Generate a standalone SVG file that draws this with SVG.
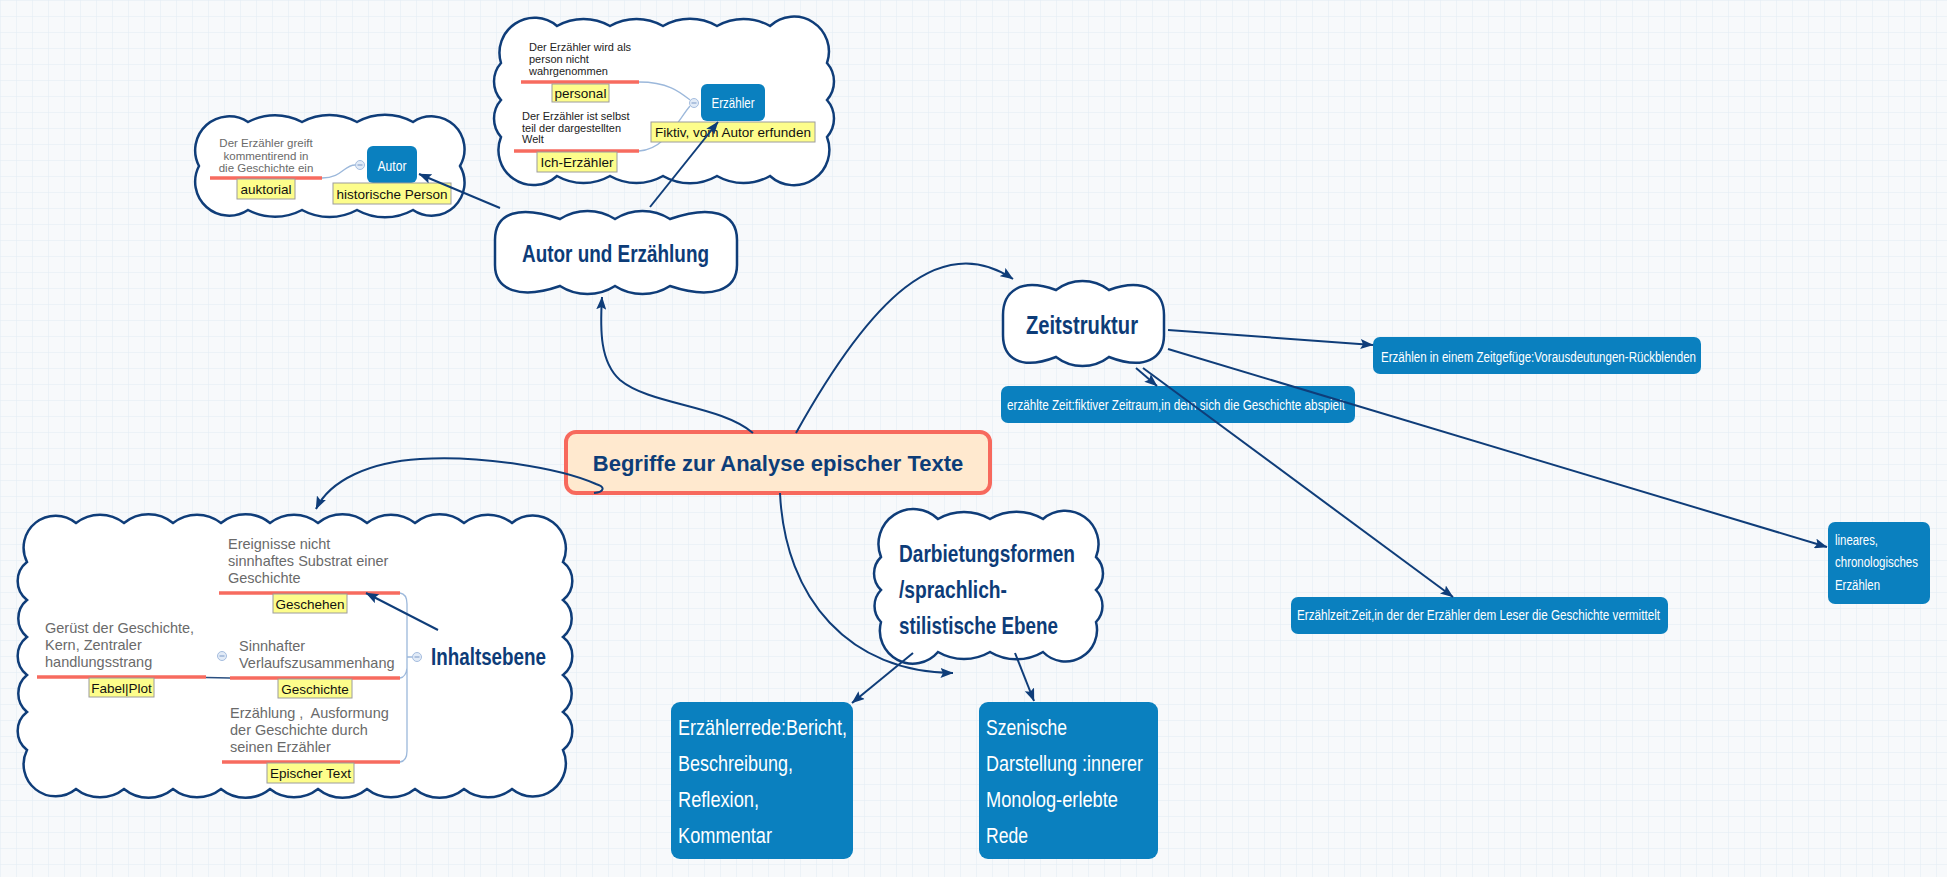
<svg xmlns="http://www.w3.org/2000/svg" width="1947" height="877" viewBox="0 0 1947 877">
<defs>
<pattern id="grid" width="16" height="16" patternUnits="userSpaceOnUse"><path d="M16 0H0V16" fill="none" stroke="#e1ebf4" stroke-width="1"/></pattern>
<marker id="ah" viewBox="0 0 13 10" refX="12.5" refY="5" markerWidth="13" markerHeight="10" markerUnits="userSpaceOnUse" orient="auto"><path d="M0,0 L13,5 L0,10 L2.5,5 z" fill="#0f3d79"/></marker>
<style>
.cl{fill:#fff;stroke:#0f3d79;stroke-width:2.5}
.bx{fill:#0a80bf}
.yl{fill:#fdfd8b;stroke:#9c9c9c;stroke-width:1}
.ul{stroke:#f76b5f;stroke-width:3.5}
.hw{font-family:"Liberation Sans Narrow","Liberation Sans",Arial,sans-serif}
.wt{fill:#fff}
.nv{fill:#0d3c78;font-weight:bold}
.gr{font-family:"Liberation Sans",Arial,sans-serif;fill:#6a6a6a}
.bk{font-family:"Liberation Sans",Arial,sans-serif;fill:#222}
.lab{font-family:"Liberation Sans",Arial,sans-serif;font-size:13.5px;fill:#111;text-anchor:middle}
.thin{fill:none;stroke:#9cb8db;stroke-width:1.3}
.arr{fill:none;stroke:#0f3d79;stroke-width:2;marker-end:url(#ah)}
.mc{fill:#e2ebf7;stroke:#a5bddf;stroke-width:1}
.mn{stroke:#8ba6cf;stroke-width:1.2}
</style>
</defs>
<rect width="1947" height="877" fill="#f7f9fb"/>
<rect width="1947" height="877" fill="url(#grid)"/>

<g id="node-autor-cloud">
<path class="cl" d="M248,122 A57.5,57.5 0 0 1 302,122 A57.5,57.5 0 0 1 357,122 A57.5,57.5 0 0 1 413,122 A33,33 0 0 1 460,166 A33,33 0 0 1 413,210 A57.5,57.5 0 0 1 357,210 A57.5,57.5 0 0 1 302,210 A57.5,57.5 0 0 1 248,210 A34,34 0 0 1 199,166 A34,34 0 0 1 248,122 Z"/>
<text class="gr" font-size="11.5" text-anchor="middle"><tspan x="266" y="147">Der Erzähler greift</tspan><tspan x="266" y="159.5">kommentirend in</tspan><tspan x="266" y="172">die Geschichte ein</tspan></text>
<line class="ul" x1="210" y1="178" x2="322" y2="178"/>
<rect class="yl" x="237" y="179" width="58" height="20"/>
<text class="lab" x="266" y="194">auktorial</text>
<path class="thin" d="M322,178 C342,178 344,165 355,165"/>
<circle class="mc" cx="360" cy="165" r="4.5"/><line class="mn" x1="357.5" y1="165" x2="362.5" y2="165"/>
<rect class="bx" x="367" y="146" width="50" height="37" rx="6"/>
<text class="hw wt" x="392" y="171" font-size="15" text-anchor="middle" textLength="29" lengthAdjust="spacingAndGlyphs">Autor</text>
<rect class="yl" x="333" y="183" width="118" height="21"/>
<text class="lab" x="392" y="198.5">historische Person</text>
</g>

<g id="node-erzaehler-cloud">
<path class="cl" d="M557,26 A53.6,53.6 0 0 1 610,26 A53.6,53.6 0 0 1 663,26 A54,54 0 0 1 717,26 A53.6,53.6 0 0 1 770,26 A35,35 0 0 1 827,63 A28,28 0 0 1 827,100 A28,28 0 0 1 827,137 A35.5,35.5 0 0 1 770,176 A53.6,53.6 0 0 1 717,176 A54,54 0 0 1 663,176 A53.6,53.6 0 0 1 610,176 A53.6,53.6 0 0 1 557,176 A35,35 0 0 1 501,137 A28,28 0 0 1 501,100 A28,28 0 0 1 501,63 A35,35 0 0 1 557,26 Z"/>
<text class="bk" font-size="11"><tspan x="529" y="51">Der Erzähler wird als</tspan><tspan x="529" y="63">person nicht</tspan><tspan x="529" y="75">wahrgenommen</tspan></text>
<line class="ul" x1="521" y1="82" x2="639" y2="82"/>
<rect class="yl" x="552" y="84" width="57" height="18"/>
<text class="lab" x="580.5" y="98">personal</text>
<text class="bk" font-size="11"><tspan x="522" y="120">Der Erzähler ist selbst</tspan><tspan x="522" y="132">teil der dargestellten</tspan><tspan x="522" y="143">Welt</tspan></text>
<line class="ul" x1="514" y1="151" x2="639" y2="151"/>
<rect class="yl" x="537" y="152" width="80" height="20"/>
<text class="lab" x="577" y="167">Ich-Erzähler</text>
<path class="thin" d="M639,82 C668,82 680,92 690,100"/>
<path class="thin" d="M639,151 C665,150 678,120 690,106"/>
<circle class="mc" cx="694" cy="103" r="4.5"/><line class="mn" x1="691.5" y1="103" x2="696.5" y2="103"/>
<rect class="bx" x="701" y="84" width="64" height="37" rx="6"/>
<text class="hw wt" x="733" y="108" font-size="15" text-anchor="middle" textLength="43" lengthAdjust="spacingAndGlyphs">Erzähler</text>
<rect class="yl" x="651" y="122" width="164" height="20"/>
<text class="lab" x="733" y="137">Fiktiv, vom Autor erfunden</text>
</g>

<g id="node-autor-und-erzaehlung">
<path class="cl" d="M560,219 A51,51 0 0 1 615,219 A51,51 0 0 1 670,219 C710,205 737,212 737,240 L737,265 C737,290 712,300 670,286 A51,51 0 0 1 615,286 A51,51 0 0 1 560,286 C520,300 495,290 495,265 L495,240 C495,212 520,205 560,219 Z"/>
<text class="hw nv" x="615.5" y="262" font-size="24" text-anchor="middle" textLength="187" lengthAdjust="spacingAndGlyphs">Autor und Erzählung</text>
</g>

<g id="node-zeitstruktur">
<path class="cl" d="M1056,290 A43.5,43.5 0 0 1 1109,290 C1145,277 1164,292 1164,315 L1164,335 C1164,358 1145,371 1109,357 A43.5,43.5 0 0 1 1056,357 C1020,371 1003,358 1003,335 L1003,315 C1003,292 1020,277 1056,290 Z"/>
<text class="hw nv" x="1082" y="334" font-size="26" text-anchor="middle" textLength="112" lengthAdjust="spacingAndGlyphs">Zeitstruktur</text>
</g>

<g id="node-zeitgefuege">
<rect class="bx" x="1373" y="337" width="328" height="37" rx="7"/>
<text class="hw wt" x="1381" y="362" font-size="14" textLength="315" lengthAdjust="spacingAndGlyphs">Erzählen in einem Zeitgefüge:Vorausdeutungen-Rückblenden</text>
</g>

<g id="node-erzaehlte-zeit">
<rect class="bx" x="1001" y="386" width="354" height="37" rx="7"/>
<text class="hw wt" x="1007" y="410" font-size="14" textLength="338" lengthAdjust="spacingAndGlyphs">erzählte Zeit:fiktiver Zeitraum,in dem sich die Geschichte abspielt</text>
</g>

<g id="node-lineares">
<rect class="bx" x="1828" y="522" width="102" height="82" rx="7"/>
<text class="hw wt" font-size="14"><tspan x="1835" y="545" textLength="43" lengthAdjust="spacingAndGlyphs">lineares,</tspan><tspan x="1835" y="567" textLength="83" lengthAdjust="spacingAndGlyphs">chronologisches</tspan><tspan x="1835" y="590" textLength="45" lengthAdjust="spacingAndGlyphs">Erzählen</tspan></text>
</g>

<g id="node-erzaehlzeit">
<rect class="bx" x="1291" y="597" width="377" height="37" rx="7"/>
<text class="hw wt" x="1297" y="620" font-size="14" textLength="363" lengthAdjust="spacingAndGlyphs">Erzählzeit:Zeit,in der der Erzähler dem Leser die Geschichte vermittelt</text>
</g>

<g id="node-central">
<rect x="566" y="432" width="424" height="61" rx="10" fill="#ffe9cf" stroke="#f7695d" stroke-width="4"/>
<text x="778" y="471" font-family="Liberation Sans, Arial, sans-serif" font-size="22" font-weight="bold" fill="#0d3d78" text-anchor="middle">Begriffe zur Analyse epischer Texte</text>
</g>

<g id="node-darbietungsformen">
<path class="cl" d="M938,519 A51.8,51.8 0 0 1 990,519 A51.8,51.8 0 0 1 1043,519 A33.5,33.5 0 0 1 1096,557 A23,23 0 0 1 1096,590 A23,23 0 0 1 1096,622 A31.5,31.5 0 0 1 1043,652 A51.8,51.8 0 0 1 990,652 A51.8,51.8 0 0 1 938,652 A33,33 0 0 1 881,622 A23,23 0 0 1 881,590 A23,23 0 0 1 881,557 A35,35 0 0 1 938,519 Z"/>
<text class="hw nv" font-size="24"><tspan x="899" y="562" textLength="176" lengthAdjust="spacingAndGlyphs">Darbietungsformen</tspan><tspan x="899" y="598" textLength="108" lengthAdjust="spacingAndGlyphs">/sprachlich-</tspan><tspan x="899" y="634" textLength="159" lengthAdjust="spacingAndGlyphs">stilistische Ebene</tspan></text>
</g>

<g id="node-erzaehlerrede">
<rect class="bx" x="671" y="702" width="182" height="157" rx="9"/>
<text class="hw wt" font-size="22"><tspan x="678" y="735" textLength="169" lengthAdjust="spacingAndGlyphs">Erzählerrede:Bericht,</tspan><tspan x="678" y="771" textLength="115" lengthAdjust="spacingAndGlyphs">Beschreibung,</tspan><tspan x="678" y="807" textLength="81" lengthAdjust="spacingAndGlyphs">Reflexion,</tspan><tspan x="678" y="843" textLength="94" lengthAdjust="spacingAndGlyphs">Kommentar</tspan></text>
</g>

<g id="node-szenische">
<rect class="bx" x="979" y="702" width="179" height="157" rx="9"/>
<text class="hw wt" font-size="22"><tspan x="986" y="735" textLength="81" lengthAdjust="spacingAndGlyphs">Szenische</tspan><tspan x="986" y="771" textLength="157" lengthAdjust="spacingAndGlyphs">Darstellung :innerer</tspan><tspan x="986" y="807" textLength="132" lengthAdjust="spacingAndGlyphs">Monolog-erlebte</tspan><tspan x="986" y="843" textLength="42" lengthAdjust="spacingAndGlyphs">Rede</tspan></text>
</g>

<g id="node-inhaltsebene">
<path class="cl" d="M76,523 A38.7,38.7 0 0 1 124,523 A38.7,38.7 0 0 1 173,523 A38.7,38.7 0 0 1 221,523 A38.7,38.7 0 0 1 270,523 A38.7,38.7 0 0 1 318,523 A38.7,38.7 0 0 1 367,523 A38.7,38.7 0 0 1 415,523 A38.7,38.7 0 0 1 464,523 A38.7,38.7 0 0 1 512,523 A33,33 0 0 1 563,562 A24,24 0 0 1 563,600 A24,24 0 0 1 563,637 A24,24 0 0 1 563,675 A24,24 0 0 1 563,712 A24,24 0 0 1 563,750 A33,33 0 0 1 512,789 A38.7,38.7 0 0 1 464,789 A38.7,38.7 0 0 1 415,789 A38.7,38.7 0 0 1 367,789 A38.7,38.7 0 0 1 318,789 A38.7,38.7 0 0 1 270,789 A38.7,38.7 0 0 1 221,789 A38.7,38.7 0 0 1 173,789 A38.7,38.7 0 0 1 124,789 A38.7,38.7 0 0 1 76,789 A32,32 0 0 1 27,750 A24,24 0 0 1 27,712 A24,24 0 0 1 27,675 A24,24 0 0 1 27,637 A24,24 0 0 1 27,600 A24,24 0 0 1 27,562 A32,32 0 0 1 76,523 Z"/>
<text class="gr" font-size="14.5"><tspan x="228" y="549">Ereignisse nicht</tspan><tspan x="228" y="566">sinnhaftes Substrat einer</tspan><tspan x="228" y="583">Geschichte</tspan></text>
<line class="ul" x1="219" y1="593" x2="400" y2="593"/>
<rect class="yl" x="273" y="594" width="74" height="19"/>
<text class="lab" x="310" y="609">Geschehen</text>
<text class="gr" font-size="14.5"><tspan x="45" y="633">Gerüst der Geschichte,</tspan><tspan x="45" y="650">Kern, Zentraler</tspan><tspan x="45" y="667">handlungsstrang</tspan></text>
<line class="ul" x1="37" y1="677" x2="206" y2="677"/>
<rect class="yl" x="89" y="678" width="65" height="19"/>
<text class="lab" x="121.5" y="693">Fabel|Plot</text>
<line x1="206" y1="677.5" x2="230" y2="678" stroke="#2a4f80" stroke-width="1.3"/>
<circle class="mc" cx="222" cy="656" r="4.5"/><line class="mn" x1="219.5" y1="656" x2="224.5" y2="656"/>
<text class="gr" font-size="14.5"><tspan x="239" y="651">Sinnhafter</tspan><tspan x="239" y="668">Verlaufszusammenhang</tspan></text>
<line class="ul" x1="230" y1="678" x2="400" y2="678"/>
<rect class="yl" x="278" y="679" width="74" height="19"/>
<text class="lab" x="315" y="694">Geschichte</text>
<text class="gr" font-size="14.5"><tspan x="230" y="718">Erzählung ,&#160; Ausformung</tspan><tspan x="230" y="735">der Geschichte durch</tspan><tspan x="230" y="752">seinen Erzähler</tspan></text>
<line class="ul" x1="222" y1="762" x2="400" y2="762"/>
<rect class="yl" x="267" y="763" width="87" height="20"/>
<text class="lab" x="310.5" y="778">Epischer Text</text>
<path class="thin" d="M400,593 Q407,594 407,604 L407,751 Q407,761 400,762 M400,678 Q406,677 407,668 M407,657 L412,657"/>
<circle class="mc" cx="417" cy="657" r="4.5"/><line class="mn" x1="414.5" y1="657" x2="419.5" y2="657"/>
<text class="hw nv" x="431" y="665" font-size="24" textLength="115" lengthAdjust="spacingAndGlyphs">Inhaltsebene</text>
</g>

<g id="connectors">
<path class="arr" d="M753,433 C720,405 650,405 620,380 C600,362 600,330 602,297"/>
<path class="arr" d="M796,433 C870,300 940,230 1013,279"/>
<path class="arr" d="M594,493 C604,492 606,487 596,484 C560,468 480,455 420,459 C370,462 330,480 316,509"/>
<path class="arr" d="M780,493 C785,600 850,672 953,673"/>
<path class="arr" d="M500,208 L419,174"/>
<path class="arr" d="M650,207 L718,122"/>
<path class="arr" d="M1168,330 L1373,345"/>
<path class="arr" d="M1136,368 L1157,386"/>
<path class="arr" d="M1143,368 L1453,597"/>
<path class="arr" d="M1168,349 L1827,547"/>
<path class="arr" d="M913,653 L852,703"/>
<path class="arr" d="M1015,653 L1034,701"/>
<path class="arr" d="M438,630 L366,593"/>
</g>
</svg>
